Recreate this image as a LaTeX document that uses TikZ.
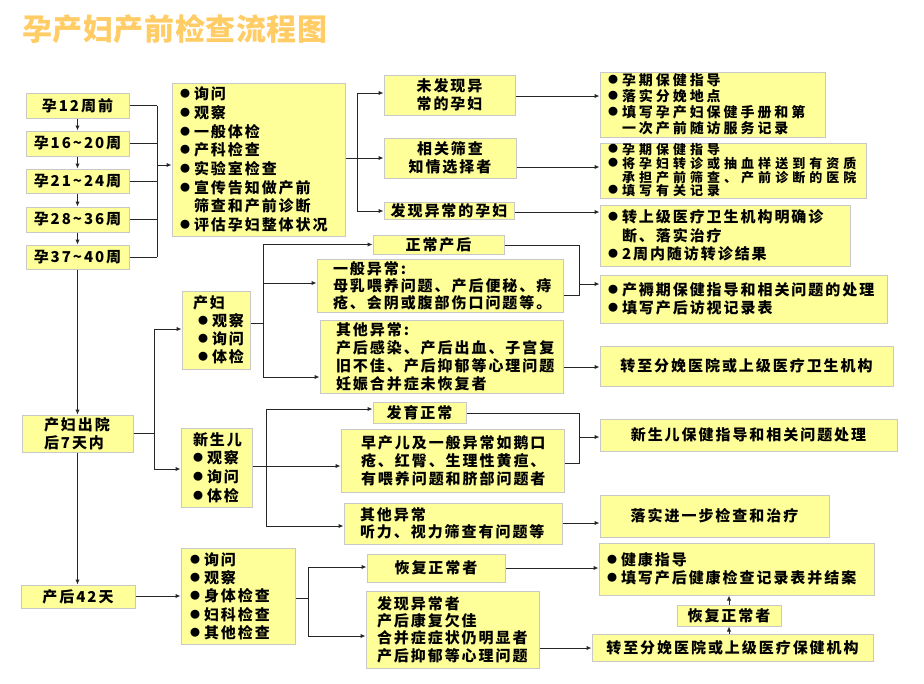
\documentclass[tikz,border=0pt]{standalone}
\usepackage{fontspec}
\usetikzlibrary{arrows.meta}
\newfontfamily\cjk[LetterSpace=13]{Noto Sans CJK SC}
\newfontfamily\cjkB[LetterSpace=21]{Noto Sans CJK SC}
\newfontfamily\cjkC[LetterSpace=31]{Noto Sans CJK SC}
\newfontfamily\cjkT[LetterSpace=2]{Noto Sans CJK SC}
\definecolor{boxfill}{RGB}{255,255,153}
\definecolor{boxline}{RGB}{200,200,200}
\definecolor{titlecol}{RGB}{255,204,102}
\newcommand{\bul}{\makebox[14pt][l]{\raisebox{2pt}{\fontsize{10}{10}\selectfont ●}}}
\tikzset{
  box/.style={draw=boxline, fill=boxfill, line width=1pt, inner ysep=0pt,
    font=\cjk\bfseries\fontsize{15}{18}\selectfont},
  lbox/.style={box, align=left},
  cbox/.style={box, align=center},
  arr/.style={-{Latex[length=5pt,width=4.5pt]}, line width=1pt, draw=black!85},
  ln/.style={line width=1pt, draw=black!85},
}
\begin{document}
\begin{tikzpicture}[x=1pt,y=-1pt]
\fill[white] (0,0) rectangle (924,683);
\useasboundingbox (0,0) rectangle (924,683);

\node[anchor=west, text=titlecol, inner sep=0pt,
  font=\cjkT\bfseries\fontsize{30}{30}\selectfont] (title) at (22,29) {孕产妇产前检查流程图};

% left column
\node[box, minimum width=103pt, minimum height=25pt] (p12) at (77.5,105.5) {孕12周前};
\node[box, minimum width=103pt, minimum height=25pt] (p16) at (77.5,143.5) {孕16\textasciitilde20周};
\node[box, minimum width=103pt, minimum height=24pt] (p21) at (77.5,181) {孕21\textasciitilde24周};
\node[box, minimum width=103pt, minimum height=25pt] (p28) at (77.5,219.5) {孕28\textasciitilde36周};
\node[box, minimum width=103pt, minimum height=24pt] (p37) at (77.5,257) {孕37\textasciitilde40周};

\node[lbox, font=\cjk\bfseries\fontsize{15}{18.7}\selectfont, minimum width=173pt, minimum height=153pt,
  inner xsep=8pt, text width=157pt] (big) at (258.5,159.5)
  {\bul 询问\\ \bul 观察\\ \bul 一般体检\\ \bul 产科检查\\ \bul 实验室检查\\ \bul 宣传告知做产前\\ \hspace*{14pt}筛查和产前诊断\\ \bul 评估孕妇整体状况};

\node[cbox, minimum width=131pt, minimum height=40pt] (n1) at (449.5,95) {未发现异\\常的孕妇};
\node[cbox, minimum width=132pt, minimum height=40pt] (n2) at (450,158) {相关筛查\\知情选择者};
\node[box, minimum width=130pt, minimum height=17pt] (n3) at (449,210.5) {发现异常的孕妇};

\node[lbox, font=\cjkB\bfseries\fontsize{14}{16}\selectfont, minimum width=225pt, minimum height=65pt,
  inner xsep=8pt, text width=209pt] (r1) at (712.5,104.5)
  {\bul 孕期保健指导\\ \bul 落实分娩地点\\ \bul 填写孕产妇保健手册和第\\ \hspace*{14pt}一次产前随访服务记录};
\node[lbox, font=\cjkC\bfseries\fontsize{13}{13.7}\selectfont, minimum width=266pt, minimum height=55pt,
  inner xsep=8pt, text width=250pt] (r2) at (733,170.5)
  {\bul 孕期保健指导\\ \bul 将孕妇转诊或抽血样送到有资质\\ \hspace*{14pt}承担产前筛查、产前诊断的医院\\ \bul 填写有关记录};
\node[lbox, font=\cjk\bfseries\fontsize{15}{18.5}\selectfont, minimum width=250pt, minimum height=61pt,
  inner xsep=8pt, text width=234pt] (r3) at (725,235.5)
  {\bul 转上级医疗卫生机构明确诊\\ \hspace*{14pt}断、落实治疗\\ \bul 2周内随访转诊结果};

% 产妇
\node[box, minimum width=131pt, minimum height=19pt] (zc) at (438.5,244.5) {正常产后};
\node[lbox, font=\cjk\bfseries\fontsize{15}{17}\selectfont, minimum width=246pt, minimum height=53pt,
  inner xsep=16pt, text width=214pt] (yb) at (440,285.5)
  {一般异常:\\母乳喂养问题、产后便秘、痔\\疮、会阴或腹部伤口问题等。};
\node[lbox, minimum width=68pt, minimum height=78pt, inner xsep=11pt, text width=46pt] (cf) at (216,330)
  {产妇\\ \hspace*{5pt}\bul 观察\\ \hspace*{5pt}\bul 询问\\ \hspace*{5pt}\bul 体检};
\node[lbox, minimum width=243pt, minimum height=73pt, inner xsep=16pt, text width=211pt] (qt) at (441.5,356.5)
  {其他异常:\\产后感染、产后出血、子宫复\\旧不佳、产后抑郁等心理问题\\妊娠合并症未恢复者};
\node[lbox, minimum width=287pt, minimum height=48pt, inner xsep=8pt, text width=271pt] (rc) at (743.5,299)
  {\bul 产褥期保健指导和相关问题的处理\\ \bul 填写产后访视记录表};
\node[box, minimum width=293pt, minimum height=40pt] (rz) at (746.5,366) {转至分娩医院或上级医疗卫生机构};

% 产妇出院
\node[lbox, minimum width=111pt, minimum height=37pt, inner xsep=22pt, text width=67pt] (cy) at (77.5,433.5)
  {产妇出院\\后7天内};
\node[lbox, font=\cjk\bfseries\fontsize{15}{18.7}\selectfont, minimum width=71pt, minimum height=79pt,
  inner xsep=12pt, text width=47pt] (xs) at (216.5,467.5)
  {新生儿\\ \bul 观察\\ \bul 询问\\ \bul 体检};
\node[box, minimum width=93pt, minimum height=21pt] (fy) at (419.5,412.5) {发育正常};
\node[lbox, minimum width=223pt, minimum height=63pt, inner xsep=20pt, text width=183pt] (zcr) at (452.5,460.5)
  {早产儿及一般异常如鹅口\\疮、红臀、生理性黄疸、\\有喂养问题和脐部问题者};
\node[lbox, font=\cjk\bfseries\fontsize{15}{17}\selectfont, minimum width=218pt, minimum height=41pt,
  inner xsep=16pt, text width=186pt] (qt2) at (453,523.5)
  {其他异常\\听力、视力筛查有问题等};
\node[box, minimum width=297pt, minimum height=32pt] (xb) at (748.5,435) {新生儿保健指导和相关问题处理};
\node[box, minimum width=229pt, minimum height=42pt] (lsj) at (714.5,516) {落实进一步检查和治疗};

% 产后42天
\node[box, minimum width=114pt, minimum height=23pt] (ch) at (78,596.5) {产后42天};
\node[lbox, font=\cjk\bfseries\fontsize{15}{18.3}\selectfont, minimum width=114pt, minimum height=96pt,
  inner xsep=9pt, text width=96pt] (lb) at (238,596)
  {\bul 询问\\ \bul 观察\\ \bul 身体检查\\ \bul 妇科检查\\ \bul 其他检查};
\node[box, minimum width=138pt, minimum height=28pt] (hf) at (436,568) {恢复正常者};
\node[lbox, font=\cjk\bfseries\fontsize{15}{17.3}\selectfont, minimum width=173pt, minimum height=77pt,
  inner xsep=11pt, text width=151pt] (fx) at (452.5,629.5)
  {发现异常者\\产后康复欠佳\\合并症症状仍明显者\\产后抑郁等心理问题};
\node[lbox, minimum width=275pt, minimum height=52pt, inner xsep=8pt, text width=259pt] (jk) at (736.5,569)
  {\bul 健康指导\\ \bul 填写产后健康检查记录表并结案};
\node[box, minimum width=104pt, minimum height=21pt] (hf2) at (729,615.5) {恢复正常者};
\node[box, minimum width=281pt, minimum height=27pt] (zb) at (732.5,647.5) {转至分娩医院或上级医疗保健机构};

% ---------- connectors ----------
\draw[arr] (p12.south) -- (p16.north);
\draw[arr] (p16.south) -- (p21.north);
\draw[arr] (p21.south) -- (p28.north);
\draw[arr] (p28.south) -- (p37.north);
\draw[arr] (p37.south) -- (p37.south |- cy.north);
\draw[arr] (cy.south) -- (cy.south |- ch.north);

\coordinate (ja) at (157,165);
\foreach \n in {p12,p16,p21,p28,p37} {\draw[ln] (\n.east) -- (\n.east -| ja);}
\draw[ln] (p12.east -| ja) -- (p37.east -| ja);
\draw[arr] (ja) -- (ja -| big.west);

\coordinate (jb) at (357,158);
\coordinate (jb1) at (357,93);
\coordinate (jb3) at (357,211);
\draw[ln] (jb -| big.east) -- (jb);
\draw[ln] (jb1) -- (jb3);
\draw[arr] (jb1) -- (jb1 -| n1.west);
\draw[arr] (jb) -- (jb -| n2.west);
\draw[arr] (jb3) -- (jb3 -| n3.west);
\coordinate (ka) at (560,96);
\coordinate (kb) at (560,167);
\coordinate (kc) at (560,212);
\draw[arr] (ka -| n1.east) -- (ka -| r1.west);
\draw[arr] (kb -| n2.east) -- (kb -| r2.west);
\draw[arr] (kc -| n3.east) -- (kc -| r3.west);

\coordinate (jc) at (154,433);
\coordinate (jc1) at (154,329);
\coordinate (jc2) at (154,469);
\draw[ln] (cy.east |- jc) -- (jc);
\draw[ln] (jc1) -- (jc2);
\draw[arr] (jc1) -- (jc1 -| cf.west);
\draw[arr] (jc2) -- (jc2 -| xs.west);

\coordinate (jd) at (263,323);
\coordinate (jd1) at (263,244.5);
\coordinate (jd2) at (263,283);
\coordinate (jd3) at (263,377);
\draw[ln] (cf.east |- jd) -- (jd);
\draw[ln] (jd1) -- (jd3);
\draw[arr] (jd1) -- (jd1 -| zc.west);
\draw[arr] (jd2) -- (jd2 -| yb.west);
\draw[arr] (jd3) -- (jd3 -| qt.west);
\coordinate (je1) at (579,245);
\coordinate (je2) at (579,295);
\coordinate (je) at (579,284);
\coordinate (je3) at (579,367);
\draw[ln] (je1 -| zc.east) -- (je1) -- (je2) -- (je2 -| yb.east);
\draw[arr] (je) -- (je -| rc.west);
\draw[arr] (je3 -| qt.east) -- (je3 -| rz.west);

\coordinate (jf) at (266,466);
\coordinate (jf1) at (266,409);
\coordinate (jf3) at (266,526);
\draw[ln] (xs.east |- jf) -- (jf);
\draw[ln] (jf1) -- (jf3);
\draw[arr] (jf1) -- (jf1 -| fy.west);
\draw[arr] (jf) -- (jf -| zcr.west);
\draw[arr] (jf3) -- (jf3 -| qt2.west);
\coordinate (jg1) at (579,413);
\coordinate (jg2) at (579,463);
\coordinate (jg) at (579,437);
\coordinate (jg3) at (579,523);
\draw[ln] (jg1 -| fy.east) -- (jg1) -- (jg2) -- (jg2 -| zcr.east);
\draw[arr] (jg) -- (jg -| xb.west);
\draw[arr] (jg3 -| qt2.east) -- (jg3 -| lsj.west);

\coordinate (jh0) at (160,596);
\draw[arr] (jh0 -| ch.east) -- (jh0 -| lb.west);
\coordinate (jh) at (308,598);
\coordinate (jh1) at (308,567);
\coordinate (jh2) at (308,636);
\draw[ln] (lb.east |- jh) -- (jh);
\draw[ln] (jh1) -- (jh2);
\draw[arr] (jh1) -- (jh1 -| hf.west);
\draw[arr] (jh2) -- (jh2 -| fx.west);
\coordinate (ji1) at (560,568);
\coordinate (ji2) at (560,648);
\draw[arr] (ji1 -| hf.east) -- (ji1 -| jk.west);
\draw[arr] (ji2 -| fx.east) -- (ji2 -| zb.west);
\draw[arr] (zb.north -| hf2) -- (hf2.south);
\draw[arr] (hf2.north) -- (hf2.north |- jk.south);
\end{tikzpicture}
\end{document}
